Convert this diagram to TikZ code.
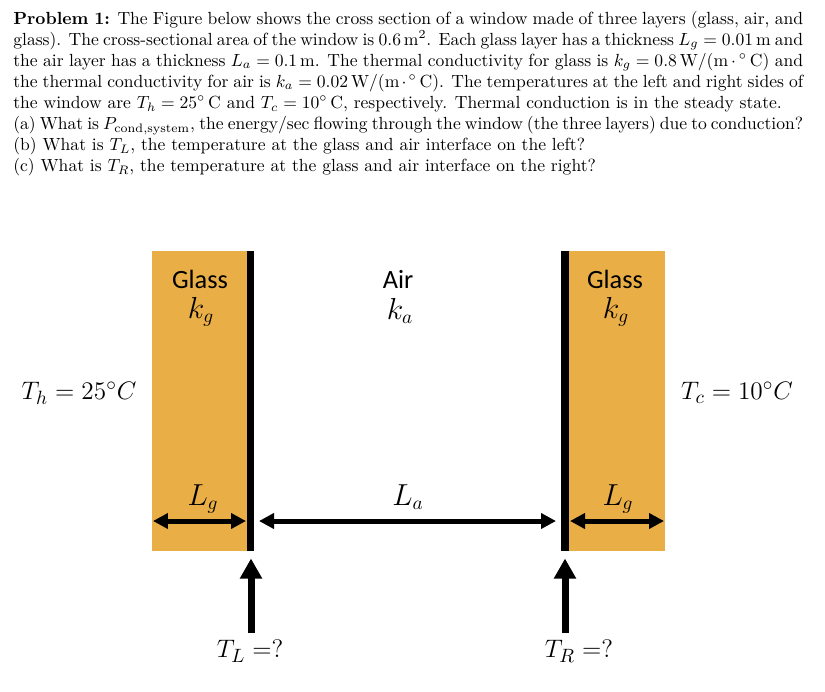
\documentclass[tikz,border=0pt]{standalone}
\usepackage{amsmath}
\usepackage{amssymb}
\usepackage{fontspec}
\newfontfamily\labelfont{Carlito}
\usetikzlibrary{positioning,arrows.meta}
\definecolor{glasscol}{HTML}{E9AE46}
\tikzset{
  lab/.style={font=\fontsize{15}{18}\selectfont, inner sep=0pt},
  mlab/.style={font=\fontsize{16}{18}\selectfont, inner sep=0pt},
  wall/.style={line width=0.15cm},
  span/.style={line width=0.1cm, {Triangle[length=0.3cm,width=0.3cm]}-{Triangle[length=0.3cm,width=0.3cm]}},
  pointer/.style={line width=0.14cm, -{Triangle[length=0.4cm,width=0.42cm]}}
}
\begin{document}
\begin{tikzpicture}[x=0.02cm,y=-0.02cm]
\def\xa{152}
\def\xb{250.5}
\def\xc{565}
\def\xd{665}
\def\ya{251}
\def\yb{551}

\useasboundingbox (0,0) rectangle (825,691);

\node[anchor=north west, inner sep=0pt, text width=15.8cm, align=justify] (problem) at (13,10.5) {%
\textbf{Problem 1:} The Figure below shows the cross section of a window made of three layers (glass, air, and\linebreak
glass). The cross-sectional area of the window is $0.6\,\mathrm{m}^2$. Each glass layer has a thickness $L_g=0.01\,\mathrm{m}$ and\linebreak
the air layer has a thickness $L_a=0.1\,\mathrm{m}$. The thermal conductivity for glass is $k_g=0.8\,\mathrm{W}/(\mathrm{m}\cdot{}^{\circ}\,\mathrm{C})$ and\linebreak
the thermal conductivity for air is $k_a=0.02\,\mathrm{W}/(\mathrm{m}\cdot{}^{\circ}\,\mathrm{C})$. The temperatures at the left and right sides of\linebreak
the window are $T_h=25^{\circ}\,\mathrm{C}$ and $T_c=10^{\circ}\,\mathrm{C}$, respectively. Thermal conduction is in the steady state.\\
\hbox to \linewidth{(a) What is $P_{\mathrm{cond,system}}$, the energy/sec flowing through the window (the three layers) due to conduction?}\\
(b) What is $T_L$, the temperature at the glass and air interface on the left?\\
(c) What is $T_R$, the temperature at the glass and air interface on the right?};

% glass layers
\coordinate (g1a) at (\xa,\ya);
\coordinate (g1b) at (\xb,\yb);
\coordinate (g2a) at (\xc,\ya);
\coordinate (g2b) at (\xd,\yb);
\fill[glasscol] (g1a) rectangle (g1b);
\fill[glasscol] (g2a) rectangle (g2b);

% interfaces
\coordinate (w1a) at (\xb,\ya);
\coordinate (w2a) at (\xc,\ya);
\coordinate (w2b) at (\xc,\yb);
\draw[wall] (w1a) -- (g1b);
\draw[wall] (w2a) -- (w2b);

% labels up top
\node[lab] (glassL) at (200,279) {\labelfont Glass};
\node[mlab] (kgL) at (201,312) {$k_g$};
\node[lab] (airM) at (398,279) {\labelfont Air};
\node[mlab] (kaM) at (400,311) {$k_a$};
\node[lab] (glassR) at (615,279) {\labelfont Glass};
\node[mlab] (kgR) at (616,312) {$k_g$};

\node[lab] (th) at (79,393) {$T_h=25^{\circ}C$};
\node[lab] (tc) at (737,393) {$T_c=10^{\circ}C$};

% thickness arrows
\node[mlab] (lgL) at (203,499) {$L_g$};
\node[mlab] (laM) at (408,497) {$L_a$};
\node[mlab] (lgR) at (618,499) {$L_g$};

\coordinate (s1a) at (153,521);
\coordinate (s1b) at (246,521);
\coordinate (s2a) at (259,521);
\coordinate (s2b) at (556,521);
\coordinate (s3a) at (570,521);
\coordinate (s3b) at (664,521);
\draw[span] (s1a) -- (s1b);
\draw[span] (s2a) -- (s2b);
\draw[span] (s3a) -- (s3b);

% pointers to the interfaces
\node[lab] (tl) at (250,651) {$T_L=?$};
\node[lab] (tr) at (579,651) {$T_R=?$};
\coordinate (p1a) at (251,633);
\coordinate (p1b) at (251,558.5);
\coordinate (p2a) at (565,633);
\coordinate (p2b) at (565,558.5);
\draw[pointer] (p1a) -- (p1b);
\draw[pointer] (p2a) -- (p2b);

\end{tikzpicture}
\end{document}
